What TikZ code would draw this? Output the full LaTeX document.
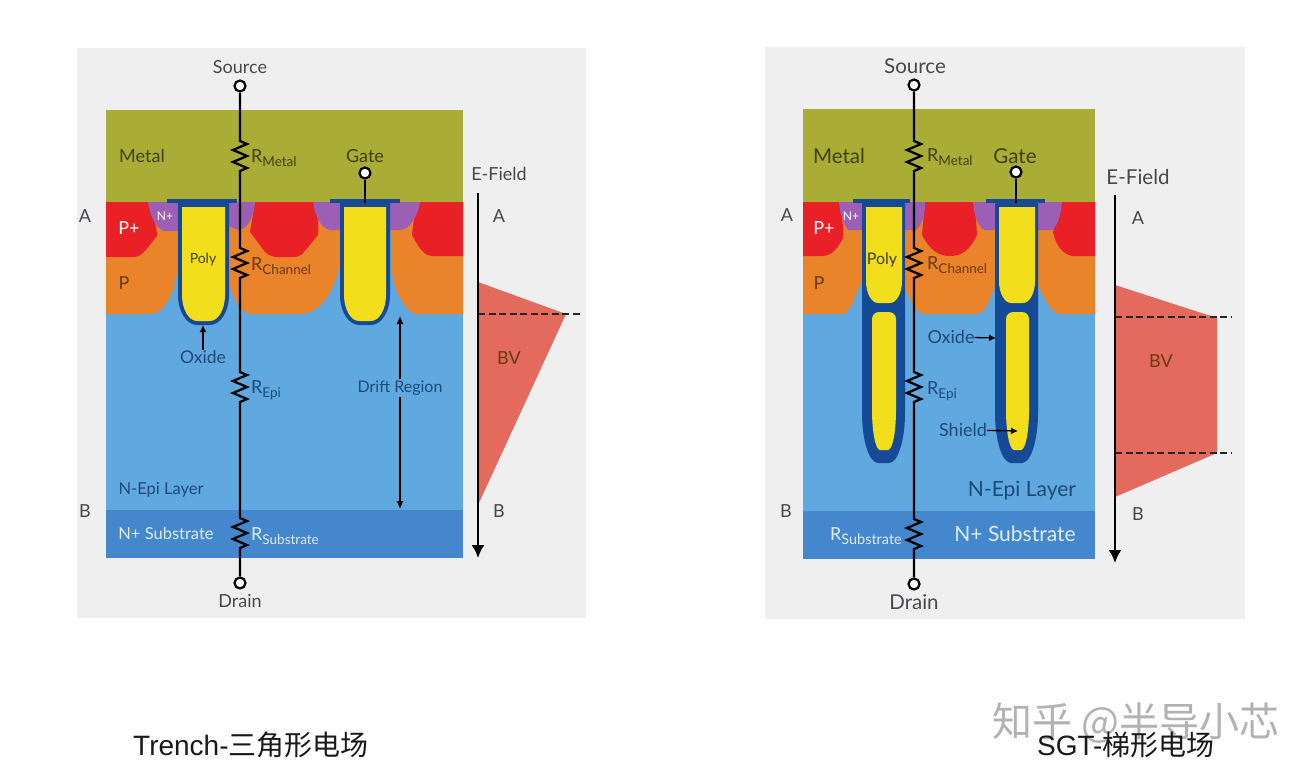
\documentclass[tikz,border=0pt]{standalone}
\usepackage{fontspec}
\setmainfont{Lato}
\newfontfamily\capfont{Liberation Sans}
\newfontfamily\cjk{Noto Sans CJK SC}
\usetikzlibrary{arrows.meta}
\definecolor{panel}{HTML}{EFEFEF}
\definecolor{metalc}{HTML}{A9AC35}
\definecolor{epic}{HTML}{5FA8E0}
\definecolor{subc}{HTML}{4487CC}
\definecolor{orangec}{HTML}{E9842B}
\definecolor{redc}{HTML}{EA2027}
\definecolor{purplec}{HTML}{9B5FB5}
\definecolor{yellowc}{HTML}{F2DE1A}
\definecolor{navyc}{HTML}{154A96}
\definecolor{fieldc}{HTML}{E46A5E}
\definecolor{txtg}{HTML}{45484C}
\definecolor{txtm}{HTML}{3F4210}
\definecolor{txtb}{HTML}{1F4A78}
\definecolor{txtw}{HTML}{DDEBF7}
\definecolor{txto}{HTML}{6B3A10}
\newcommand{\fs}[1]{\fontsize{#1}{#1}\selectfont}
\newcommand{\Rsub}[2][13.5]{R\raisebox{-4pt}{\fs{#1}#2}}
\tikzset{
  x=1pt,y=-1pt,
  lab/.style={font=\fs{18},inner sep=0pt,text=txtg},
  mlab/.style={lab,text=txtm},
  blab/.style={lab,text=txtb},
  wlab/.style={lab,text=txtw},
  olab/.style={lab,text=txto},
  big/.style={font=\fs{20.5}},
  term/.style={circle,draw=black,fill=white,line width=2.2pt,minimum size=11pt,inner sep=0pt},
  wire/.style={draw=black,line width=2.3pt,line join=miter},
  zz/.style={insert path={-- ++(0,1) -- ++(7,3) -- ++(-14,6) -- ++(14,6) -- ++(-14,6) -- ++(14,6) -- ++(-7,3) -- ++(0,4)}},
  arr/.style={draw=black,line width=2.3pt,-{Latex[length=13pt,width=13pt]}},
  sarr/.style={draw=black,line width=1.3pt,-{Latex[length=7pt,width=7pt]}},
  darr/.style={draw=black,line width=1.3pt,{Latex[length=8pt,width=7pt]}-{Latex[length=8pt,width=7pt]}},
  dashln/.style={draw=black!85,line width=1.6pt,dash pattern=on 7pt off 3.5pt},
  capt/.style={font=\capfont\fs{28},inner sep=0pt,text=black!90},
}
% colour, xl, xr, top, bottom, bottom rx, bottom ry, top radius
\newcommand{\tub}[8]{\fill[#1] (#2,#4+#8) .. controls (#2,#4+0.45*#8) and (#2+0.45*#8,#4) .. (#2+#8,#4) -- (#3-#8,#4) .. controls (#3-0.45*#8,#4) and (#3,#4+0.45*#8) .. (#3,#4+#8) -- (#3,#5-#7) .. controls (#3,#5-0.45*#7) and (#3-0.45*#6,#5) .. (#3-#6,#5) -- (#2+#6,#5) .. controls (#2+0.45*#6,#5) and (#2,#5-0.45*#7) .. (#2,#5-#7) -- cycle;}
\begin{document}
\begin{tikzpicture}
\useasboundingbox (0,0) rectangle (1308,778);
\fill[white] (0,0) rectangle (1308,778);
% ---------- left panel
\fill[panel] (77,48) rectangle (586,618);
\fill[epic] (106,202) rectangle (463,510);
\fill[subc] (106,510) rectangle (463,558);
\fill[metalc] (106,110) rectangle (463,202);
% orange
\fill[orangec] (106,202) -- (178,202) -- (178,265) .. controls (176,290) and (165,314) .. (150,314) -- (106,314) -- cycle;
\fill[orangec] (229,202) -- (340,202) -- (340,262) .. controls (336,290) and (320,314) .. (300,314) -- (250,314) .. controls (240,312) and (230,295) .. (229,280) -- cycle;
\fill[orangec] (390,202) -- (463,202) -- (463,314) -- (415,314) .. controls (405,310) and (393,290) .. (392,270) -- cycle;
% red
\fill[redc] (106,202) -- (150,202) .. controls (152,215) and (157,225) .. (157,236) -- (145,251) .. controls (141,255) and (138,257) .. (134,257) -- (106,257) -- cycle;
\fill[redc] (255,202) -- (318,202) -- (318,235) -- (304,252) .. controls (301,256) and (297,257) .. (293,257) -- (278,257) .. controls (270,257) and (266,254) .. (262,248) -- (250,232) -- cycle;
\fill[redc] (416,202) -- (463,202) -- (463,256) -- (432,256) .. controls (425,256) and (420,250) .. (412,235) -- cycle;
% purple
\fill[purplec] (148,202) -- (178,202) -- (178,231) -- (164,231) .. controls (155,228) and (150,215) .. (148,202) -- cycle;
\fill[purplec] (229,202) -- (255,202) .. controls (254,215) and (248,230) .. (238,230) -- (229,226) -- cycle;
\fill[purplec] (313,202) -- (340,202) -- (340,230) -- (330,230) .. controls (320,228) and (315,215) .. (313,202) -- cycle;
\fill[purplec] (390,202) -- (420,202) .. controls (418,215) and (410,230) .. (400,230) -- (390,230) -- cycle;
% trenches
\tub{navyc}{178}{229}{202}{325}{19}{30}{0}
\tub{yellowc}{182}{225}{207}{321}{15}{26}{0}
\tub{navyc}{340}{390}{202}{325}{19}{30}{0}
\tub{yellowc}{344}{386}{207}{321}{15}{26}{0}
\fill[navyc] (167,199) rectangle (237,203);
\fill[navyc] (330,199) rectangle (400,203);
% field
\fill[fieldc] (478,282) -- (566,314) -- (478,505) -- cycle;
\coordinate (ldL) at (478,314); \coordinate (ldR) at (580,314);
\draw[dashln] (ldL) -- (ldR);
\coordinate (lfa) at (478,193); \coordinate (lfb) at (478,558);
\draw[arr] (lfa) -- (lfb);
% terminals and wire
\node[term] (ls) at (240,86) {};
\node[term] (ld) at (240,583) {};
\node[term] (lg) at (365,173) {};
\coordinate (lgb) at (365,203);
\draw[wire] (lg) -- (lgb);
\coordinate (lr1) at (240,140); \coordinate (lr2) at (240,247); \coordinate (lr3) at (240,371); \coordinate (lr4) at (240,517);
\draw[wire] (ls) -- (lr1) [zz] -- (lr2) [zz] -- (lr3) [zz] -- (lr4) [zz] -- (ld);
% labels
\node[lab] (lsrc) at (240,67) {Source};
\node[lab] (ldrn) at (240,601) {Drain};
\node[mlab] (lgate) at (365,156) {Gate};
\node[mlab] (lmetal) at (142,156) {Metal};
\node[mlab,anchor=west] (lrm) at (251,158) {\Rsub{Metal}};
\node[mlab,anchor=west,text=txto] (lrc) at (251,266) {\Rsub{Channel}};
\node[blab,anchor=west] (lre) at (251,390) {\Rsub{Epi}};
\node[wlab,anchor=west] (lrs) at (251,536) {\Rsub{Substrate}};
\node[lab] (la1) at (85,216) {A};
\node[lab] (lb1) at (85,511) {B};
\node[lab] (la2) at (499,216) {A};
\node[lab] (lb2) at (499,511) {B};
\node[lab] (lef) at (499,174) {E-Field};
\node[lab,text=txto] (lbv) at (509,358) {BV};
\node[lab,text=white,font=\fs{18}] (lpp) at (129,228) {P+};
\node[olab] (lp) at (124,283) {P};
\node[lab,text=white,font=\fs{12}] (lnp) at (165,216) {N+};
\node[lab,text=txtm,font=\fs{14}] (lpoly) at (203,260) {Poly};
\node[blab,font=\fs{17.5}] (lox) at (203,357) {Oxide};
\coordinate (loxb) at (203,325);
\draw[sarr] (lox) -- (loxb);
\coordinate (ldt) at (400,316); \coordinate (ldb) at (400,509);
\draw[darr] (ldt) -- (ldb);
\node[blab,font=\fs{16},fill=epic,inner sep=2pt] (ldr) at (400,388) {Drift Region};
\node[blab,font=\fs{16.5}] (lne) at (161,490) {N-Epi Layer};
\node[wlab,font=\fs{16.5}] (lns) at (166,533) {N+ Substrate};
% ---------- right panel
\fill[panel] (765,47) rectangle (1245,619);
\fill[epic] (803,202) rectangle (1095,511);
\fill[subc] (803,511) rectangle (1095,559);
\fill[metalc] (803,109) rectangle (1095,202);
% orange
\fill[orangec] (803,202) -- (862,202) -- (862,280) .. controls (855,296) and (850,314) .. (842,314) -- (803,314) -- cycle;
\fill[orangec] (905,202) -- (995,202) -- (995,285) .. controls (990,300) and (985,314) .. (976,314) -- (924,314) .. controls (915,312) and (910,300) .. (905,288) -- cycle;
\fill[orangec] (1038,202) -- (1095,202) -- (1095,314) -- (1058,314) .. controls (1050,310) and (1044,298) .. (1038,285) -- cycle;
% red
\fill[redc] (803,202) -- (840,202) .. controls (841,215) and (844,225) .. (843,238) .. controls (838,248) and (832,256) .. (822,256) -- (803,256) -- cycle;
\fill[redc] (925,202) -- (975,202) -- (977,235) .. controls (970,250) and (962,256) .. (950,256) .. controls (938,256) and (930,250) .. (922,235) -- cycle;
\fill[redc] (1058,202) -- (1095,202) -- (1095,256) -- (1072,256) .. controls (1062,254) and (1056,245) .. (1053,232) -- cycle;
% purple
\fill[purplec] (839,202) -- (862,202) -- (862,230) -- (848,230) .. controls (842,222) and (840,212) .. (839,202) -- cycle;
\fill[purplec] (905,202) -- (925,202) .. controls (925,215) and (922,225) .. (916,230) -- (905,230) -- cycle;
\fill[purplec] (973,202) -- (995,202) -- (995,230) -- (984,230) .. controls (977,225) and (974,215) .. (973,202) -- cycle;
\fill[purplec] (1038,202) -- (1062,202) .. controls (1061,215) and (1058,225) .. (1052,230) -- (1038,230) -- cycle;
% trenches
\tub{navyc}{862}{905}{202}{463}{16}{50}{0}
\tub{yellowc}{866}{902}{207}{303}{12}{22}{0}
\tub{yellowc}{872}{896}{312}{450}{8}{40}{7}
\tub{navyc}{995}{1038}{202}{463}{16}{50}{0}
\tub{yellowc}{999}{1035}{207}{303}{12}{22}{0}
\tub{yellowc}{1006}{1029}{312}{450}{8}{40}{7}
\fill[navyc] (853,199) rectangle (910,203);
\fill[navyc] (986,199) rectangle (1045,203);
% field
\fill[fieldc] (1115,285) -- (1217,318) -- (1217,453) -- (1115,497) -- cycle;
\coordinate (rd1a) at (1115,317); \coordinate (rd1b) at (1232,317);
\coordinate (rd2a) at (1115,453); \coordinate (rd2b) at (1232,453);
\draw[dashln] (rd1a) -- (rd1b);
\draw[dashln] (rd2a) -- (rd2b);
\coordinate (rfa) at (1115,195); \coordinate (rfb) at (1115,563);
\draw[arr] (rfa) -- (rfb);
% terminals and wire
\node[term] (rs) at (914,85) {};
\node[term] (rd) at (914,584) {};
\node[term] (rg) at (1016,172) {};
\coordinate (rgb) at (1016,203);
\draw[wire] (rg) -- (rgb);
\coordinate (rr1) at (914,140); \coordinate (rr2) at (914,247); \coordinate (rr3) at (914,371); \coordinate (rr4) at (914,518);
\draw[wire] (rs) -- (rr1) [zz] -- (rr2) [zz] -- (rr3) [zz] -- (rr4) [zz] -- (rd);
% labels
\node[lab,big] (rsrc) at (915,66) {Source};
\node[lab,big] (rdrn) at (914,602) {Drain};
\node[mlab,big] (rgate) at (1015,156) {Gate};
\node[mlab,big] (rmetal) at (839,156) {Metal};
\node[mlab,anchor=west] (rrm) at (927,157) {\Rsub{Metal}};
\node[mlab,anchor=west,text=txto] (rrc) at (927,265) {\Rsub{Channel}};
\node[blab,anchor=west] (rre) at (927,391) {\Rsub{Epi}};
\node[wlab,anchor=east] (rrs) at (902,536) {\Rsub[14.5]{Substrate}};
\node[lab] (ra1) at (787,215) {A};
\node[lab] (rb1) at (786,511) {B};
\node[lab] (ra2) at (1138,218) {A};
\node[lab] (rb2) at (1138,514) {B};
\node[lab,big] (ref) at (1138,177) {E-Field};
\node[lab,text=txto] (rbv) at (1161,361) {BV};
\node[lab,text=white,font=\fs{18}] (rpp) at (824,228) {P+};
\node[olab] (rp) at (819,283) {P};
\node[lab,text=white,font=\fs{12}] (rnp) at (851,216) {N+};
\node[lab,text=txtm,font=\fs{16}] (rpoly) at (882,260) {Poly};
\node[blab,font=\fs{18}] (rox) at (951,337) {Oxide};
\coordinate (roxb) at (996,338);
\draw[sarr] (rox) -- (roxb);
\node[blab,font=\fs{18}] (rsh) at (963,430) {Shield};
\coordinate (rshb) at (1018,431);
\draw[sarr] (rsh) -- (rshb);
\node[blab,font=\fs{21}] (rne) at (1022,491) {N-Epi Layer};
\node[wlab,font=\fs{21}] (rns) at (1015,534) {N+ Substrate};
% ---------- captions
\node[anchor=west,inner sep=0pt,text=black!30,font=\cjk\fs{40}] (wm) at (992,723) {知乎 @半导小芯};
\node[capt,anchor=west] (c1) at (133,745) {Trench-{\cjk 三角形电场}};
\node[capt,anchor=west] (c2) at (1037,745) {SGT-{\cjk 梯形电场}};
\end{tikzpicture}
\end{document}
